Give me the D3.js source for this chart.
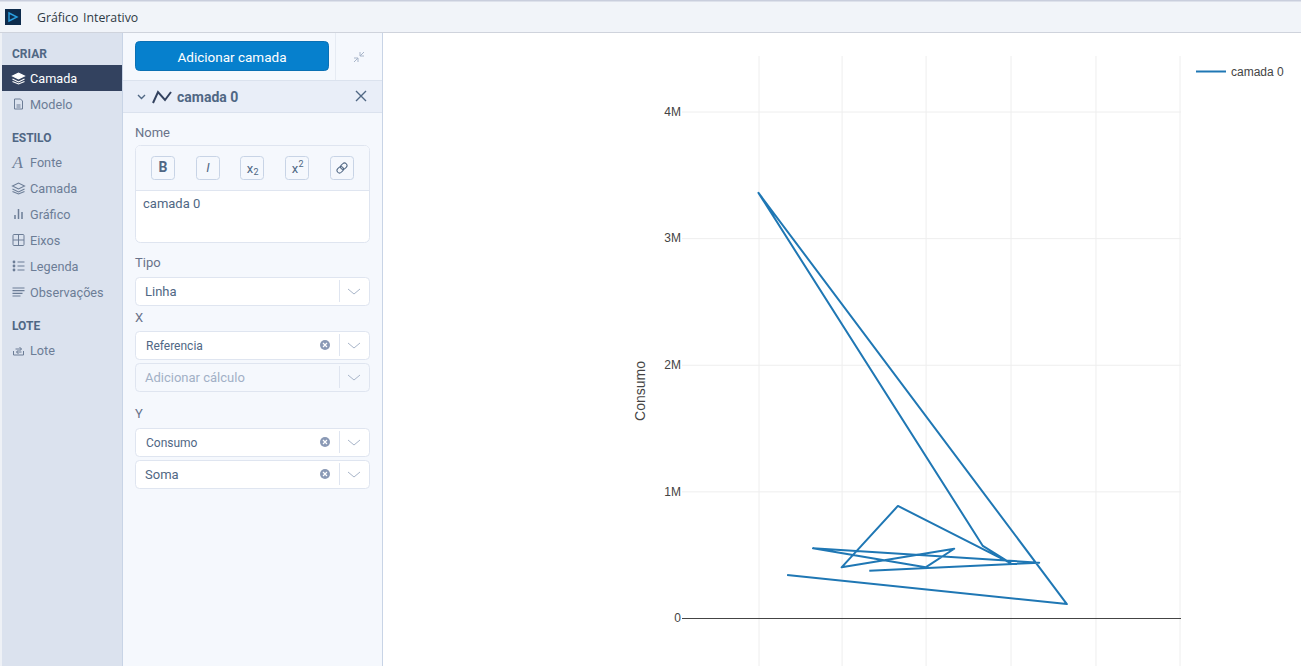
<!DOCTYPE html>
<html>
<head>
<meta charset="utf-8">
<script src="https://cdn.jsdelivr.net/npm/d3@7"></script>
<style>
html, body { margin: 0; padding: 0; overflow: hidden; background: #fff; }
svg { display: block; }
.ui { font-family: Roboto, sans-serif; }
.plot text { font-family: "Liberation Sans", Arial, sans-serif; }
</style>
</head>
<body>
<div id="viz"></div>
<script>
// ========================================
// Data
// ========================================

// months in the order the rows come out of the table (the year is hidden, labels are cut off)
var referencia = ['2019-02', '2019-12', '2019-01', '2019-09', '2019-10', '2019-06', '2019-04', '2019-08', '2019-07', '2019-03', '2019-11', '2019-05'];
var consumo = [340000, 110000, 3357000, 569000, 434000, 885000, 400000, 547000, 400000, 550000, 437000, 374000];
var x_ticks = ['2019-01', '2019-04', '2019-07', '2019-10', '2020-01', '2020-04'];
var y_ticks = [0, 1000000, 2000000, 3000000, 4000000];
var y_labels = ['0', '1M', '2M', '3M', '4M'];
var layer_name = 'camada 0';
var y_title = 'Consumo';

var menu_heads = [['CRIAR', 53.5], ['ESTILO', 137.5], ['LOTE', 325.5]];
var menu_items = [
   ['Camada', 'layers', 78], ['Modelo', 'doc', 104], ['Fonte', 'font', 162], ['Camada', 'layers', 188],
   ['Gráfico', 'bars', 214], ['Eixos', 'grid', 240], ['Legenda', 'list', 266],
   ['Observações', 'lines', 292], ['Lote', 'batch', 350]
];
var form_labels = [['Nome', 132], ['Tipo', 262], ['X', 317], ['Y', 413]];
// text, top, clearable, text colour, background, text left
var dropdowns = [
   ['Linha', 277, false, '#506784', '#fff', 145],
   ['Referencia', 331, true, '#506784', '#fff', 146],
   ['Adicionar cálculo', 363, false, '#a2b0c6', '#f5f8fd', 145],
   ['Consumo', 428, true, '#506784', '#fff', 146],
   ['Soma', 460, true, '#506784', '#fff', 145]
];
var toolbar = ['B', 'I', 'x', 'x', 'link'];

// ========================================
// Colours
// ========================================

var line_color = '#1f77b4',
    grid_color = '#eeeeee',
    axis_color = '#444444',
    side_color = '#dbe2ee',
    panel_color = '#f5f8fd',
    border_color = '#c8d4e6',
    field_border = '#dfe5f0',
    active_color = '#33425f',
    ui_text = '#506784';

var svg = d3.select('#viz').append('svg').attr('width', 1301).attr('height', 666);

// ========================================
// Application chrome
// ========================================

var ui = svg.append('g').attr('class', 'ui');

function rect(parent, x, y, w, h, fill, stroke, r) {
   return parent.append('rect')
      .attr('x', x).attr('y', y).attr('width', w).attr('height', h)
      .attr('fill', fill).attr('stroke', stroke || 'none').attr('rx', r || 0);
}

function label(parent, x, y, text, size, color, weight) {
   return parent.append('text')
      .attr('x', x).attr('y', y)
      .attr('font-size', size).attr('fill', color).attr('font-weight', weight || 400)
      .attr('dominant-baseline', 'central')
      .text(text);
}

function path(parent, d, color, width, fill) {
   return parent.append('path').attr('d', d).attr('fill', fill || 'none')
      .attr('stroke', color).attr('stroke-width', width || 1);
}

// top bar
rect(ui, 0, 0, 1301, 33, '#f1f4f9');
rect(ui, 0, 0, 1301, 1.5, '#c9cedd');
rect(ui, 0, 32, 1301, 1, '#cfd3dc');
rect(ui, 5, 9, 16, 16, '#0d2b4c');
path(ui, 'M9 13 L17 17 L9 21 Z', '#2a9fe0', 1.4);
label(ui, 37, 17.5, 'Gráfico Interativo', 12.3, '#2f3a45')
   .attr('font-family', '"Open Sans"')
   .attr('word-spacing', 1.5);

// left menu
rect(ui, 0, 33, 2, 633, '#eef1f6');
rect(ui, 2, 33, 120, 633, side_color);
rect(ui, 122, 33, 1, 633, border_color);
rect(ui, 2, 65, 120, 26, active_color);

function icon(parent, kind, cx, cy, color) {
   var g = parent.append('g').attr('transform', `translate(${cx},${cy})`);
   if (kind === 'layers') {
      path(g, 'M-6 -2 L0 -5 L6 -2 L0 1 Z', color, 1.1, color === '#ffffff' ? color : 'none');
      path(g, 'M-6 1 L0 4 L6 1', color, 1.1);
      path(g, 'M-6 3.5 L0 6 L6 3.5', color, 1.1);
   } else if (kind === 'doc') {
      path(g, 'M-4 -5 H2 L4 -3 V5 H-4 Z M-2 1 H2 M-2 3 H2', color, 1);
   } else if (kind === 'font') {
      g.append('text').attr('x', -6).attr('y', 5.5).attr('font-size', 17).attr('font-style', 'italic')
         .attr('font-family', '"Liberation Serif"').attr('fill', color).text('A');
   } else if (kind === 'bars') {
      path(g, 'M-3.5 5 V1 M0 5 V-5 M3.5 5 V-2', color, 1.5);
   } else if (kind === 'grid') {
      rect(g, -5.5, -5.5, 11, 11, 'none', color, 1);
      path(g, 'M0 -5.5 V5.5 M-5.5 0 H5.5', color, 1);
   } else if (kind === 'list') {
      path(g, 'M-1 -4 H6 M-1 0 H6 M-1 4 H6', color, 1.2);
      g.selectAll('circle').data([-4, 0, 4]).enter().append('circle')
         .attr('cx', -4.5).attr('cy', d => d).attr('r', 1.4).attr('fill', color);
   } else if (kind === 'lines') {
      path(g, 'M-6 -4 H6 M-6 -1.3 H6 M-6 1.4 H4 M-6 4 H2', color, 1.2);
   } else if (kind === 'batch') {
      path(g, 'M-5 1 V5 H5 V1 M-3 -1 H3 M1 -3 L3 -1 L1 1 M3 2 H-2 M0 0 L-2 2 L0 4', color, 1);
   }
}

menu_heads.forEach(function(d) {
   label(ui, 12, d[1], d[0], 12, ui_text, 700);
});

menu_items.forEach(function(d, i) {
   var color = i === 0 ? '#ffffff' : '#6c7d96';
   icon(ui, d[1], 18.5, d[2], color);
   label(ui, 30, d[2], d[0], 12.7, color);
});

// right panel
rect(ui, 123, 33, 259, 633, panel_color);
rect(ui, 382, 33, 1, 633, border_color);
rect(ui, 135.5, 41.5, 193, 29, '#0680cd', '#0a70b4', 4);
label(ui, 232, 57, 'Adicionar camada', 13.5, '#ffffff').attr('text-anchor', 'middle');
rect(ui, 335, 33, 1, 47, '#e6ebf3');
path(ui, 'M354 62 L358 58 M354 58 H358 V62 M364 52 L360 56 M364 56 H360 V52', '#a8b5c9', 1);

rect(ui, 123, 80, 259, 33, '#e9eef8');
rect(ui, 123, 80, 259, 1, '#dbe2ee');
rect(ui, 123, 112, 259, 1, '#dbe2ee');
path(ui, 'M138 95 L141.5 98.5 L145 95', ui_text, 1.4);
path(ui, 'M153 103 L158 92 L165 100 L171 92', active_color, 2);
label(ui, 177, 97, layer_name, 14, ui_text, 700);
path(ui, 'M356 91 L366 101 M366 91 L356 101', ui_text, 1.4);

form_labels.forEach(function(d) {
   label(ui, 135, d[1], d[0], 13, '#69738a');
});

// name editor
rect(ui, 135.5, 145.5, 234, 97, '#ffffff', field_border, 5);
path(ui, 'M136 190.5 V150 Q136 146 140 146 H365 Q369 146 369 150 V190.5 Z', 'none', 0, panel_color);
path(ui, 'M135.5 190.5 H369.5', field_border, 1);
label(ui, 143, 203, layer_name, 13, ui_text);

[151, 196, 240, 285, 330].forEach(function(x, i) {
   rect(ui, x + 0.5, 156.5, 23, 23, 'none', '#c8d4e6', 3);
   var cx = x + 12;
   if (i === 0) {
      label(ui, cx, 167, toolbar[i], 14, ui_text, 700).attr('text-anchor', 'middle');
   } else if (i === 1) {
      label(ui, cx, 167, toolbar[i], 13, ui_text).attr('text-anchor', 'middle').attr('font-style', 'italic');
   } else if (i < 4) {
      label(ui, cx - 2, 168, toolbar[i], 13, ui_text).attr('text-anchor', 'middle');
      label(ui, cx + 4, i === 2 ? 172 : 164, '2', 9, ui_text).attr('text-anchor', 'middle');
   } else {
      var link = ui.append('g').attr('transform', `translate(${cx},168) rotate(-45)`);
      rect(link, -6, -2.5, 7, 5, 'none', ui_text, 2.5);
      rect(link, -1, -2.5, 7, 5, 'none', ui_text, 2.5);
   }
});

// dropdowns
dropdowns.forEach(function(d) {
   var top = d[1];
   rect(ui, 135.5, top + 0.5, 234, 28, d[4], field_border, 4);
   label(ui, d[5], top + 14.5, d[0], d[5] === 146 ? 12 : 13, d[3]);
   rect(ui, 339, top + 3, 1, 22, field_border);
   path(ui, `M348 ${top + 12} L354 ${top + 17} L360 ${top + 12}`, '#a8b5c9', 1);
   if (d[2]) {
      ui.append('circle').attr('cx', 325).attr('cy', top + 14).attr('r', 5).attr('fill', '#8a99b5');
      path(ui, `M323 ${top + 12} L327 ${top + 16} M327 ${top + 12} L323 ${top + 16}`, '#ffffff', 1.2);
   }
});

// ========================================
// Chart
// ========================================

var plot = svg.append('g').attr('class', 'plot');

var plot_left = 682, plot_right = 1181, plot_top = 56, plot_bottom = 680;

var parse_month = d3.utcParse('%Y-%m');

var x = d3.scaleUtc().domain([parse_month(x_ticks[0]), parse_month(x_ticks[5])]).range([758.5, 1179.5]);
var y = d3.scaleLinear().domain([0, 4000000]).range([618, 111.5]);

// vertical grid, its labels sit below the visible part of the page
plot.append('g')
   .attr('transform', `translate(0,${plot_bottom})`)
   .call(d3.axisBottom(x).tickValues(x_ticks.map(parse_month)).tickSizeOuter(0).tickSizeInner(-(plot_bottom - plot_top)).tickFormat(''))
   .call(g => g.select('.domain').remove())
   .call(g => g.selectAll('line').attr('stroke', grid_color));

// horizontal grid and tick labels
plot.append('g')
   .attr('transform', `translate(${plot_left},0)`)
   .call(d3.axisLeft(y).tickValues(y_ticks).tickSize(0).tickPadding(1).tickFormat((d, i) => y_labels[i]))
   .call(g => g.select('.domain').remove())
   .call(g => g.selectAll('line')
      .attr('x2', plot_right - plot_left)
      .attr('stroke', d => d === 0 ? axis_color : grid_color))
   .call(g => g.selectAll('text').attr('font-size', 12).attr('fill', axis_color));

var row = d3.range(referencia.length);
var draw_line = d3.line().x(i => x(parse_month(referencia[i]))).y(i => y(consumo[i]));

plot.append('path')
   .attr('d', draw_line(row))
   .attr('fill', 'none')
   .attr('stroke', line_color)
   .attr('stroke-width', 2)
   .attr('stroke-linejoin', 'round');

plot.append('text')
   .attr('transform', 'translate(640,391) rotate(-90)')
   .attr('text-anchor', 'middle')
   .attr('dominant-baseline', 'central')
   .attr('font-size', 14)
   .attr('fill', axis_color)
   .text(y_title);

// legend
plot.append('line')
   .attr('x1', 1196).attr('x2', 1226).attr('y1', 71.5).attr('y2', 71.5)
   .attr('stroke', line_color).attr('stroke-width', 2);
plot.append('text')
   .attr('x', 1231).attr('y', 71.5)
   .attr('dominant-baseline', 'central')
   .attr('font-size', 12)
   .attr('fill', axis_color)
   .text(layer_name);
</script>
</body>
</html>
